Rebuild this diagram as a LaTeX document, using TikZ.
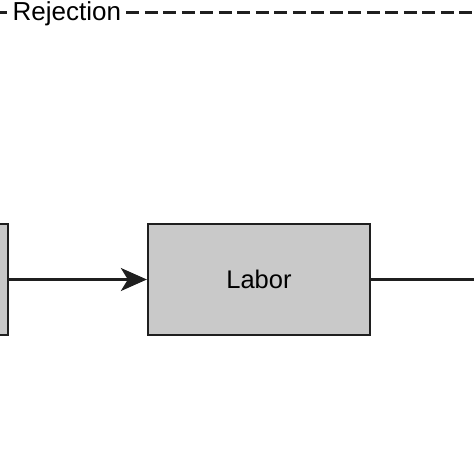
\documentclass[tikz,border=0pt]{standalone}
\usepackage{fontspec}
\setmainfont{Liberation Sans}
\usetikzlibrary{arrows.meta}
\begin{document}
\begin{tikzpicture}[x=1pt,y=1pt,
  procbox/.style={draw=black!88, line width=2.3pt, fill=black!21, minimum width=222pt, minimum height=111pt, inner sep=0pt, font=\fontsize{25.5}{28}\selectfont},
  flow/.style={draw=black!88, line width=2.3pt},
  rejline/.style={draw=black!88, line width=2.2pt, dash pattern=on 13pt off 5.5pt},
  lbl/.style={inner sep=0pt, font=\fontsize{26}{28}\selectfont}]
\useasboundingbox (0,0) rectangle (474,-474);
% boxes
\node[procbox] (prev) at (-103,-279.5) {};
\node[procbox] (labor) at (259,-279.5) {Labor};
\coordinate (rightend) at (480,-279.5);
\draw[flow, -{Stealth[length=26pt, width=23pt, inset=7pt]}] (prev.east) -- (labor.west);
\draw[flow] (labor.east) -- (rightend);
% rejection line
\node[lbl, anchor=base west] (rej) at (12.5,-20.5) {Rejection};
\coordinate (rejL) at (0,-12.5);
\coordinate (rejR) at (480,-12.5);
\draw[rejline, dash pattern=on 7pt off 10pt] (rejL) -- ([xshift=-5pt]rej.west |- rejL);
\draw[rejline] ([xshift=5pt]rej.east |- rejR) -- (rejR);
\end{tikzpicture}
\end{document}
